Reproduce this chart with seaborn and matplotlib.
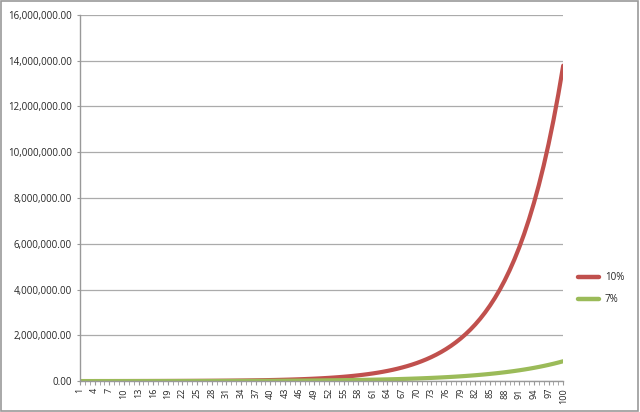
import matplotlib
matplotlib.use("Agg")
import matplotlib.pyplot as plt
import matplotlib.ticker as mticker
from matplotlib.patches import Rectangle
import seaborn as sns
import pandas as pd

years = list(range(1, 101))
series_names = ["10%", "7%"]
rate_10 = [
    1100, 1210, 1331, 1464, 1611, 1772, 1949, 2144, 2358, 2594,
    2853, 3138, 3452, 3797, 4177, 4595, 5054, 5560, 6116, 6727,
    7400, 8140, 8954, 9850, 10835, 11918, 13110, 14421, 15863, 17449,
    19194, 21114, 23225, 25548, 28102, 30913, 34004, 37404, 41145, 45259,
    49785, 54764, 60240, 66264, 72890, 80180, 88197, 97017, 106719, 117391,
    129130, 142043, 156247, 171872, 189059, 207965, 228762, 251638, 276801, 304482,
    334930, 368423, 405265, 445792, 490371, 539408, 593349, 652683, 717952, 789747,
    868722, 955594, 1051153, 1156269, 1271895, 1399085, 1538993, 1692893, 1862182, 2048400,
    2253240, 2478564, 2726421, 2999063, 3298969, 3628866, 3991753, 4390928, 4830021, 5313023,
    5844325, 6428758, 7071633, 7778797, 8556676, 9412344, 10353578, 11388936, 12527830, 13780613,
]
rate_7 = [
    1070, 1145, 1225, 1311, 1403, 1501, 1606, 1718, 1838, 1967,
    2105, 2252, 2410, 2579, 2759, 2952, 3159, 3380, 3617, 3870,
    4141, 4430, 4741, 5072, 5427, 5807, 6214, 6649, 7114, 7612,
    8145, 8715, 9325, 9978, 10677, 11424, 12224, 13079, 13995, 14974,
    16023, 17144, 18344, 19628, 21002, 22473, 24046, 25729, 27530, 29457,
    31519, 33725, 36086, 38612, 41315, 44207, 47302, 50613, 54156, 57946,
    62003, 66343, 70987, 75956, 81273, 86962, 93049, 99563, 106532, 113989,
    121969, 130506, 139642, 149417, 159876, 171067, 183042, 195855, 209565, 224234,
    239931, 256726, 274697, 293926, 314500, 336515, 360071, 385276, 412246, 441102,
    471979, 505018, 540369, 578195, 618668, 661975, 708313, 757895, 810948, 867714,
]
y_ticks = [0, 2000000, 4000000, 6000000, 8000000, 10000000, 12000000, 14000000, 16000000]

df = pd.DataFrame({
    "year": years * 2,
    "value": rate_10 + rate_7,
    "series": [series_names[0]] * len(years) + [series_names[1]] * len(years),
})

sns.set_style("white")
plt.rcParams["font.family"] = ["Open Sans", "DejaVu Sans"]

fig = plt.figure(figsize=(6.4, 4.12), dpi=100)
ax = fig.add_axes([0.125, 0.075, 0.755, 0.889])

sns.lineplot(data=df, x="year", y="value", hue="series",
             palette={"10%": "#C0504D", "7%": "#9BBB59"},
             linewidth=3.0, ax=ax, legend=True)

ax.set_xlim(1, 100)
ax.set_ylim(0, 16000000)
ax.set_yticks(y_ticks)
ax.yaxis.set_major_formatter(mticker.FuncFormatter(lambda v, p: f"{v:,.2f}"))
ax.grid(axis="y", color="#ababab", linewidth=0.9)
ax.set_axisbelow(True)

ax.set_xticks(years[::3])
ax.set_xticklabels([str(y) for y in years[::3]], rotation=90)
ax.set_xticks(years, minor=True)
ax.tick_params(axis="x", which="both", direction="out", length=3, color="#999999",
               labelsize=6.5, pad=2, bottom=True)
ax.tick_params(axis="y", direction="out", length=2.5, color="#999999", labelsize=7, pad=3.5, left=True)
ax.set_xlabel("")
ax.set_ylabel("")

for s in ["top", "right"]:
    ax.spines[s].set_visible(False)
for s in ["left", "bottom"]:
    ax.spines[s].set_color("#999999")
    ax.spines[s].set_linewidth(1)

leg = ax.legend(loc="center left", bbox_to_anchor=(1.012, 0.252), frameon=False,
                fontsize=7, handlelength=2.2, handletextpad=0.6, labelspacing=1.1)
for h in leg.get_lines():
    h.set_linewidth(3.2)

fig.patches.append(Rectangle((0.002, 0.003), 0.995, 0.994, transform=fig.transFigure,
                             fill=False, edgecolor="#9a9a9a", linewidth=1.2))

fig.savefig("out.png", dpi=100)
